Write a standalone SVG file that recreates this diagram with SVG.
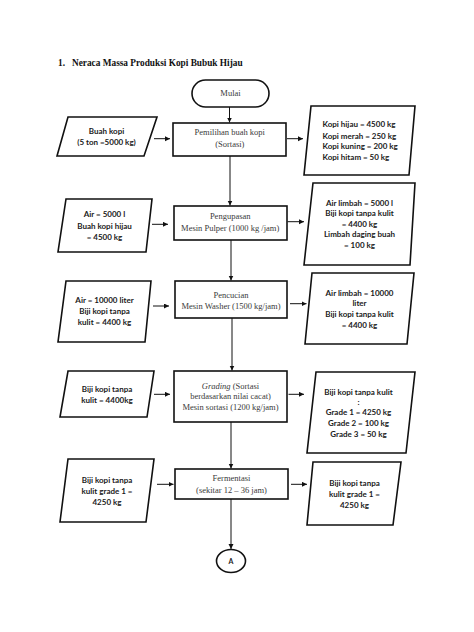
<svg xmlns="http://www.w3.org/2000/svg" width="474" height="632" viewBox="0 0 474 632">
<defs>
<marker id="ah" markerUnits="userSpaceOnUse" markerWidth="6" markerHeight="6" refX="5" refY="2.5" orient="auto">
<path d="M0,0 L5,2.5 L0,5 z" fill="#111"/>
</marker>
</defs>
<style>
.box{fill:#fff;stroke:#111;stroke-width:1.6}
.io{fill:#fff;stroke:#111;stroke-width:1.6;stroke-linejoin:miter}
.pt{font-family:"Liberation Serif","Times New Roman",serif;font-size:8.5px;fill:#3a3a3a;text-anchor:middle}
.dt{font-family:Lato,"Liberation Sans",sans-serif;font-weight:bold;font-size:8px;fill:#1a1a1a;text-anchor:middle}
.dl{font-family:Lato,"Liberation Sans",sans-serif;font-weight:bold;font-size:8px;fill:#1a1a1a}
.ttl{font-family:"Liberation Serif","Times New Roman",serif;font-weight:bold;font-size:9.3px;fill:#111}
.cn{stroke:#111;stroke-width:1;fill:none;marker-end:url(#ah)}
</style>
<rect width="474" height="632" fill="#fff"/>
<g id="title">
<text class="ttl" x="58" y="66">1.</text>
<text class="ttl" x="72" y="66">Neraca Massa Produksi Kopi Bubuk Hijau</text>
</g>
<g id="connectors">
<line class="cn" x1="229.5" y1="107" x2="229.5" y2="122.5"/>
<line class="cn" x1="230" y1="156" x2="230" y2="205.5"/>
<line class="cn" x1="231" y1="240" x2="231" y2="280.5"/>
<line class="cn" x1="232" y1="318" x2="232" y2="370.5"/>
<line class="cn" x1="231" y1="422" x2="231" y2="468.5"/>
<line class="cn" x1="231" y1="499" x2="231" y2="549"/>
<line class="cn" x1="154" y1="138.7" x2="170" y2="138.7"/>
<line class="cn" x1="287" y1="138.7" x2="303" y2="138.7"/>
<line class="cn" x1="152" y1="224.3" x2="168" y2="224.3"/>
<line class="cn" x1="287.5" y1="221.7" x2="304" y2="221.7"/>
<line class="cn" x1="153" y1="306" x2="169" y2="306"/>
<line class="cn" x1="290" y1="303.7" x2="306.5" y2="303.7"/>
<line class="cn" x1="154" y1="394.3" x2="170" y2="394.3"/>
<line class="cn" x1="288.5" y1="394.3" x2="304" y2="394.3"/>
<line class="cn" x1="157" y1="484.3" x2="173.5" y2="484.3"/>
<line class="cn" x1="291" y1="484.3" x2="307" y2="484.3"/>
</g>
<g id="mulai">
<rect class="box" x="192" y="80" width="77" height="27" rx="13.5" ry="13.5"/>
<text class="pt" x="230.5" y="95.5">Mulai</text>
</g>
<g id="sortasi">
<rect class="box" x="173" y="123" width="113" height="33"/>
<text class="pt" x="229.8" y="134.5">Pemilihan buah kopi</text>
<text class="pt" x="229.8" y="146.5">(Sortasi)</text>
</g>
<g id="in-buah">
<polygon class="io" points="68,117 157,117 144,156 57,156"/>
<text class="dt" x="106.5" y="133.5">Buah kopi</text>
<text class="dt" x="106.5" y="144.5">(5 ton =5000 kg)</text>
</g>
<g id="out-sortasi">
<polygon class="io" points="311,106 415,106 409,175 304,175"/>
<text class="dl" x="322.5" y="127">Kopi hijau =  4500 kg</text>
<text class="dl" x="322.5" y="138.5">Kopi merah = 250 kg</text>
<text class="dl" x="322.5" y="149">Kopi kuning = 200 kg</text>
<text class="dl" x="322.5" y="159.5">Kopi hitam = 50 kg</text>
</g>
<g id="pengupasan">
<rect class="box" x="174" y="206" width="113" height="34"/>
<text class="pt" x="230.2" y="219">Pengupasan</text>
<text class="pt" x="230.2" y="231">Mesin Pulper (1000 kg /jam)</text>
</g>
<g id="in-pengupasan">
<polygon class="io" points="66,199 152,199 146,252 58,252"/>
<text class="dt" x="104.5" y="217">Air = 5000 l</text>
<text class="dt" x="104.5" y="228.5">Buah kopi hijau</text>
<text class="dt" x="104.5" y="239.5">= 4500 kg</text>
</g>
<g id="out-pengupasan">
<polygon class="io" points="313,183 415,183 410,265 304,265"/>
<text class="dt" x="359.5" y="205.5">Air limbah  = 5000 l</text>
<text class="dt" x="359.5" y="216">Biji kopi tanpa kulit</text>
<text class="dt" x="359.5" y="226.5">= 4400 kg</text>
<text class="dt" x="359.5" y="237">Limbah daging buah</text>
<text class="dt" x="359.5" y="248">= 100 kg</text>
</g>
<g id="pencucian">
<rect class="box" x="175" y="281" width="112" height="37"/>
<text class="pt" x="231" y="298">Pencucian</text>
<text class="pt" x="231" y="308.5">Mesin Washer (1500 kg/jam)</text>
</g>
<g id="in-pencucian">
<polygon class="io" points="66,281 151,281 145,342 58,342"/>
<text class="dt" x="104.5" y="303">Air = 10000 liter</text>
<text class="dt" x="104.5" y="314">Biji kopi tanpa</text>
<text class="dt" x="104.5" y="325">kulit = 4400 kg</text>
</g>
<g id="out-pencucian">
<polygon class="io" points="312,273 414,273 407,344 305,344"/>
<text class="dt" x="359.5" y="295.5">Air limbah  = 10000</text>
<text class="dt" x="359.5" y="306">liter</text>
<text class="dt" x="359.5" y="317">Biji kopi tanpa kulit</text>
<text class="dt" x="359.5" y="328">= 4400 kg</text>
</g>
<g id="grading">
<rect class="box" x="174" y="371" width="113" height="51"/>
<text class="pt" x="230.5" y="388.5"><tspan font-style="italic">Grading</tspan> (Sortasi</text>
<text class="pt" x="230.5" y="399">berdasarkan nilai cacat)</text>
<text class="pt" x="230.5" y="410">Mesin sortasi (1200 kg/jam)</text>
</g>
<g id="in-grading">
<polygon class="io" points="68,371 154,371 147,417 60,417"/>
<text class="dt" x="107" y="392">Biji kopi tanpa</text>
<text class="dt" x="107" y="403">kulit = 4400kg</text>
</g>
<g id="out-grading">
<polygon class="io" points="316,372 415,372 406,453 307,453"/>
<text class="dt" x="358.5" y="394.5">Biji kopi tanpa kulit</text>
<text class="dt" x="358.5" y="404.5">:</text>
<text class="dt" x="358.5" y="415">Grade 1 = 4250 kg</text>
<text class="dt" x="358.5" y="425.5">Grade 2 = 100  kg</text>
<text class="dt" x="358.5" y="436.5">Grade 3 = 50 kg</text>
</g>
<g id="fermentasi">
<rect class="box" x="175" y="469" width="113" height="30"/>
<text class="pt" x="231.5" y="481">Fermentasi</text>
<text class="pt" x="231.5" y="493">(sekitar 12 – 36 jam)</text>
</g>
<g id="in-fermentasi">
<polygon class="io" points="68,459 154,459 146,522 60,522"/>
<text class="dt" x="107" y="483">Biji kopi tanpa</text>
<text class="dt" x="107" y="494">kulit grade 1 =</text>
<text class="dt" x="107" y="505">4250 kg</text>
</g>
<g id="out-fermentasi">
<polygon class="io" points="313,462 401,462 393,525 307,525"/>
<text class="dt" x="354.5" y="486">Biji kopi tanpa</text>
<text class="dt" x="354.5" y="497">kulit grade 1 =</text>
<text class="dt" x="354.5" y="507.5">4250 kg</text>
</g>
<g id="connector-a">
<ellipse class="box" cx="231" cy="561" rx="14.5" ry="11.5"/>
<text class="dt" x="231" y="563.5" style="font-size:7px">A</text>
</g>
</svg>
